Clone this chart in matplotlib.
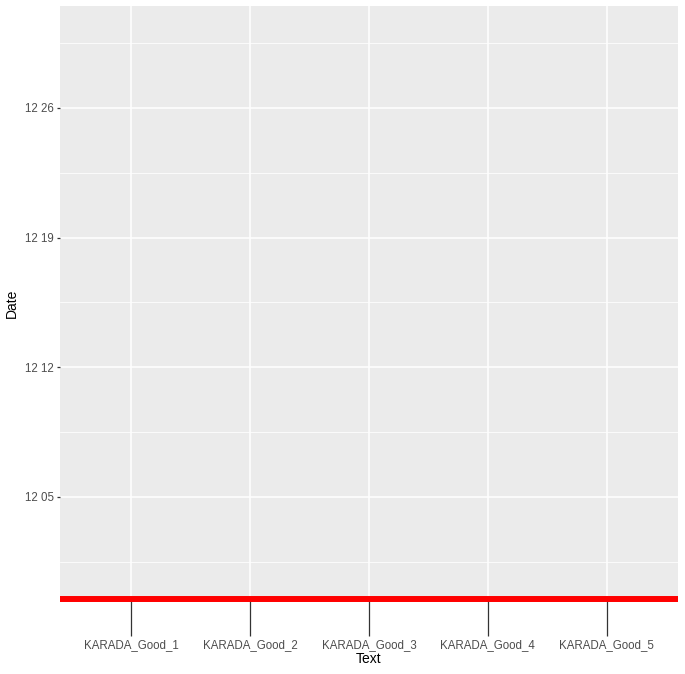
import matplotlib
matplotlib.use("Agg")
import matplotlib.pyplot as plt
import matplotlib.dates as mdates
import numpy as np
import datetime as dt

# categories on the x axis
texts = ["KARADA_Good_1", "KARADA_Good_2", "KARADA_Good_3", "KARADA_Good_4", "KARADA_Good_5"]
# date axis limits and the red reference line
date_lo = dt.datetime(2023, 11, 29, 10, 30)
date_hi = dt.datetime(2023, 12, 31, 12, 0)
red_line = dt.datetime(2023, 11, 29, 12, 0)
major_dates = [dt.datetime(2023, 12, d) for d in (5, 12, 19, 26)]

plt.rcParams['font.family'] = ['Liberation Sans', 'DejaVu Sans']

W, H = 685, 674
fig = plt.figure(figsize=(W / 100, H / 100), dpi=100)
left, right, top, bottom = 60, 678, 6, 600
ax = fig.add_axes([left / W, 1 - bottom / H, (right - left) / W, (bottom - top) / H])
ax.set_facecolor('#EBEBEB')
for s in ax.spines.values():
    s.set_visible(False)

x = np.arange(1, len(texts) + 1)
ax.set_xlim(0.4, len(texts) + 0.6)
ax.set_ylim(mdates.date2num(date_lo), mdates.date2num(date_hi))

ax.set_xticks(x)
ax.set_xticklabels(texts)
ax.set_yticks(mdates.date2num(major_dates))
ax.yaxis.set_major_formatter(mdates.DateFormatter('%m %d'))
minor = [d - dt.timedelta(days=3.5) for d in major_dates] + [major_dates[-1] + dt.timedelta(days=3.5)]
ax.set_yticks(mdates.date2num(minor), minor=True)

ax.grid(True, which='major', color='white', linewidth=1.1)
ax.grid(True, which='minor', axis='y', color='white', linewidth=0.55)
ax.set_axisbelow(True)

ax.tick_params(axis='x', which='major', length=26, width=0.9, color='#333333',
               labelsize=8.3, labelcolor='#4D4D4D', pad=2)
ax.tick_params(axis='y', which='major', length=2.5, width=0.9, color='#333333',
               labelsize=8.3, labelcolor='#4D4D4D', pad=2)
ax.tick_params(axis='y', which='minor', length=0)

ax.axhline(mdates.date2num(red_line), color='red', linewidth=4.3, clip_on=False,
           solid_capstyle='butt')

ax.set_xlabel('Text', fontsize=10, color='black', labelpad=1)
ax.set_ylabel('Date', fontsize=10, color='black', labelpad=4)

fig.savefig('out.png', dpi=100, facecolor='white')
